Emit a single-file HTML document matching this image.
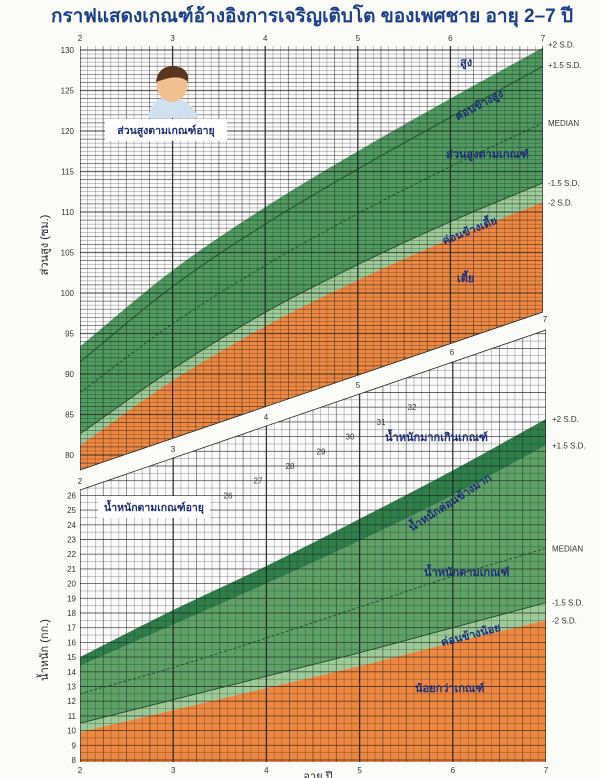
<!DOCTYPE html>
<html><head><meta charset="utf-8"><style>
html,body{margin:0;padding:0;background:#fbfbf8;}
svg{display:block;font-family:"Liberation Sans","Noto Sans CJK SC",sans-serif;}
</style></head><body>
<svg id="s" width="600" height="778" viewBox="0 0 600 778" xmlns="http://www.w3.org/2000/svg">
<defs>
<clipPath id="ct"><polygon points="80,46 543,46 543,312 80,470"/></clipPath>
<clipPath id="cw"><polygon points="80,490 546,330 546,762 80,762"/></clipPath>
</defs>
<text x="312" y="22" text-anchor="middle" font-size="19" font-weight="bold" fill="#1c3f8c" font-family="'Liberation Sans','Noto Sans CJK SC',sans-serif">กราฟแสดงเกณฑ์อ้างอิงการเจริญเติบโต ของเพศชาย อายุ 2–7 ปี</text>
<g id="top" clip-path="url(#ct)"><rect x="80" y="46" width="463" height="424" fill="#fafafa"/></g>
<g id="wt" clip-path="url(#cw)"><rect x="80" y="330" width="466" height="432" fill="#fafafa"/></g>
<g id="lab" font-size="8" fill="#333"></g>
<g fill="#1e2f7a" font-weight="bold" font-size="11" font-family="'Liberation Serif','Noto Serif CJK SC',serif">
<text x="460" y="66">สูง</text>
<text x="452" y="112" transform="rotate(-28 472 105)">ค่อนข้างสูง</text>
<text x="446" y="158">ส่วนสูงตามเกณฑ์</text>
<text x="440" y="236" transform="rotate(-22 465 230)">ค่อนข้างเตี้ย</text>
<text x="457" y="282">เตี้ย</text>
<text x="385" y="441">น้ำหนักมากเกินเกณฑ์</text>
<text x="398" y="505" transform="rotate(-33 450 495)">น้ำหนักค่อนข้างมาก</text>
<text x="424" y="576">น้ำหนักตามเกณฑ์</text>
<text x="440" y="640" transform="rotate(-15 465 635)">ค่อนข้างน้อย</text>
<text x="415" y="692">น้อยกว่าเกณฑ์</text>
</g>
<rect x="105" y="119" width="122" height="22" fill="#fff"/>
<text x="166" y="134" text-anchor="middle" font-size="10.5" font-weight="bold" fill="#1e2f7a">ส่วนสูงตามเกณฑ์อายุ</text>
<rect x="98" y="496" width="112" height="22" fill="#fff"/>
<text x="154" y="511" text-anchor="middle" font-size="10.5" font-weight="bold" fill="#1e2f7a">น้ำหนักตามเกณฑ์อายุ</text>
<g>
<path d="M148,118 Q150,100 170,96 Q192,100 198,118 Z" fill="#cfe0ee"/>
<ellipse cx="172" cy="86" rx="15" ry="16" fill="#f1c08f"/>
<path d="M156,82 Q158,66 174,66 Q190,68 188,82 Q180,74 162,80 Z" fill="#5a3520"/>
</g>
<text transform="translate(48,245) rotate(-90)" text-anchor="middle" font-size="11" fill="#223">ส่วนสูง (ซม.)</text>
<text transform="translate(48,650) rotate(-90)" text-anchor="middle" font-size="11" fill="#223">น้ำหนัก (กก.)</text>
<text x="318" y="780" text-anchor="middle" font-size="11" fill="#223">อายุ    ปี</text>
</svg>
<script>
var NS="http://www.w3.org/2000/svg";
function el(p,t,a,txt){var e=document.createElementNS(NS,t);for(var k in a)e.setAttribute(k,a[k]);if(txt!=null)e.textContent=txt;p.appendChild(e);return e;}
function cr(pts,x){
  var i=Math.min(4,Math.max(0,Math.floor(x-2)));var t=x-2-i;
  var p1=pts[i],p2=pts[i+1];
  var p0=i>0?pts[i-1]:2*pts[0]-pts[1];
  var p3=i<4?pts[i+2]:2*pts[5]-pts[4];
  return 0.5*((2*p1)+(-p0+p2)*t+(2*p0-5*p1+4*p2-p3)*t*t+(-p0+3*p1-3*p2+p3)*t*t*t);}
function curve(pts,X,Y){var a=[];for(var k=0;k<=100;k++){var x=2+k*0.05;a.push([X(x),Y(cr(pts,x))]);}return a;}
function band(g,up,lo,fill){var s=up.map(p=>p.join(",")).concat(lo.slice().reverse().map(p=>p.join(",")));el(g,"polygon",{points:s.join(" "),fill:fill});}
function line(g,c,st,da){el(g,"polyline",{points:c.map(p=>p.join(",")).join(" "),fill:"none",stroke:st,"stroke-width":0.9,"stroke-dasharray":da||""});}
var T=document.getElementById("top");
var hx=a=>80+(a-2)*92.6, hy=h=>50+(130-h)*8.1;
var H={p2:[93.4,102.8,110.6,117.5,124,130.3],p15:[91.5,100.8,108.5,115.3,121.7,128],m:[87.7,96.2,103.4,109.8,115.6,121],m15:[82.6,90.6,97.6,103.5,108.8,113.6],m2:[81.2,89.2,95.9,101.6,106.7,111.2]};
var C={};for(var k in H)C[k]=curve(H[k],hx,hy);
band(T,C.m2,[[80,480],[543,320]],"#ee8840");
band(T,C.m15,C.m2,"#9ccb98");
band(T,C.p2,C.m15,"#4f9b60");
for(var i=0;i<=60;i++){var x=80+i*463/60;var w=i%12==0?1.3:(i%3==0?0.8:0.4);el(T,"line",{x1:x,y1:46,x2:x,y2:480,stroke:"#222","stroke-width":w,"stroke-opacity":i%12==0?0.9:0.6});}
for(var h=75;h<=130;h+=0.5){var y=hy(h);var w=h%5==0?1.3:(h%1==0?0.7:0.35);el(T,"line",{x1:80,y1:y,x2:543,y2:y,stroke:"#222","stroke-width":w,"stroke-opacity":0.7});}
line(T,C.p15,"#1d4a2a");line(T,C.m,"#1d4a2a","3,2");line(T,C.m15,"#1d4a2a");
var W=document.getElementById("wt");
var wx=a=>80+(a-2)*93.2, wy=v=>760-(v-8)*14.7;
var G={p2:[15,18.2,21.2,24.4,27.7,31.2],p15:[14.4,17.2,20,22.9,26,29.4],m:[12.5,14.3,16.3,18.4,20.5,22.4],m15:[10.5,12.1,13.7,15.3,17,18.7],m2:[9.9,11.4,12.9,14.4,16,17.5]};
var D={};for(var k in G)D[k]=curve(G[k],wx,wy);
band(W,D.m2,[[80,762],[546,762]],"#ee8840");
band(W,D.m15,D.m2,"#9ccb98");
band(W,D.p15,D.m15,"#5fa267");
band(W,D.p2,D.p15,"#2f7f4b");
for(var i=0;i<=60;i++){var x=80+i*466/60;var w=i%12==0?1.3:(i%3==0?0.8:0.4);el(W,"line",{x1:x,y1:320,x2:x,y2:762,stroke:"#222","stroke-width":w,"stroke-opacity":i%12==0?0.9:0.6});}
for(var v=8;v<=38;v+=0.5){var y=wy(v);var w=v%1==0?0.9:0.35;el(W,"line",{x1:80,y1:y,x2:546,y2:y,stroke:"#222","stroke-width":w,"stroke-opacity":0.7});}
line(W,D.m,"#1d4a2a","3,2");line(W,D.m15,"#1d4a2a");
var S=document.getElementById("s");
el(S,"line",{x1:80,y1:470,x2:543,y2:312,stroke:"#222","stroke-width":0.8});
el(S,"line",{x1:80,y1:490,x2:546,y2:330,stroke:"#222","stroke-width":0.8});
var L=document.getElementById("lab");
for(var a=2;a<=7;a++){el(L,"text",{x:hx(a),y:41,"text-anchor":"middle"},a);el(L,"text",{x:wx(a),y:773,"text-anchor":"middle"},a);}
var band2=[[80,484],[173,452],[266,420],[358,388],[452,355],[545,322]];
band2.forEach((p,i)=>el(L,"text",{x:p[0],y:p[1],"text-anchor":"middle"},i+2));
for(var h=80;h<=130;h+=5)el(L,"text",{x:74,y:hy(h)+3,"text-anchor":"end"},h);
for(var v=8;v<=26;v++)el(L,"text",{x:76,y:wy(v)+3,"text-anchor":"end"},v);
[[228,26],[258,27],[290,28],[321,29],[350,30],[381,31],[412,32]].forEach(p=>el(L,"text",{x:p[0],y:wy(p[1])+3,"text-anchor":"middle"},p[1]));
var R=[["+2 S.D.",hy(130.3)],["+1.5 S.D.",hy(128)+2],["MEDIAN",hy(121)+3],["-1.5 S.D.",hy(113.6)+3],["-2 S.D.",hy(111.2)+3],
["+2 S.D.",wy(31.2)+3],["+1.5 S.D.",wy(29.4)+3],["MEDIAN",wy(22.4)+3],["-1.5 S.D.",wy(18.7)+3],["-2 S.D.",wy(17.5)+3]];
R.forEach((r,i)=>el(L,"text",{x:i<5?548:552,y:r[1]},r[0]));
</script>
</body></html>
